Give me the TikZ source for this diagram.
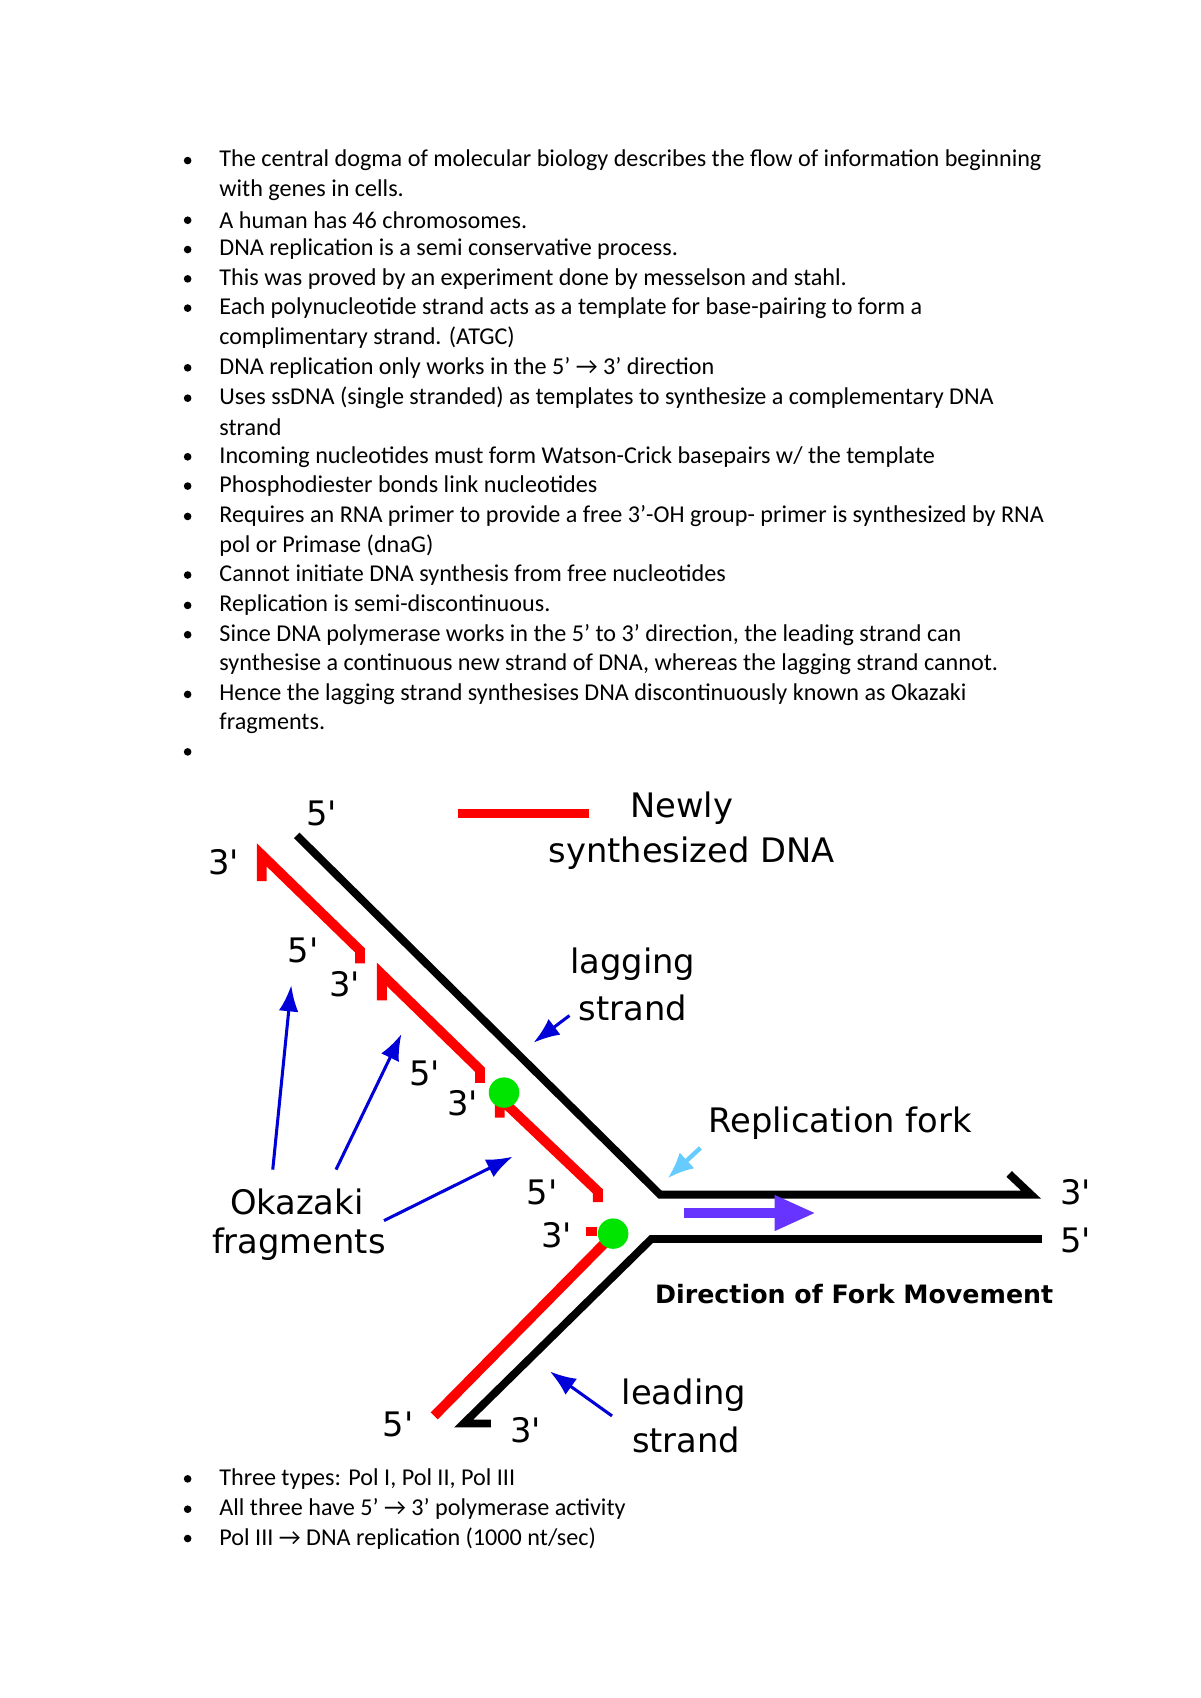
\documentclass[tikz,border=0pt]{standalone}
\usepackage{fontspec}
\setmainfont{Carlito}
\newfontfamily\diag{DejaVu Sans}
\usetikzlibrary{arrows.meta}
\begin{document}
\begin{tikzpicture}[x=0.05cm,y=-0.04973cm,
  body/.style={anchor=west,font=\fontsize{31.5}{35}\selectfont,inner sep=0},
  bul/.style={circle,fill=black,inner sep=0,minimum size=0.35cm},
  lab/.style={font=\diag\fontsize{44}{48}\selectfont,inner sep=0},
  small/.style={font=\diag\bfseries\fontsize{33}{36}\selectfont,inner sep=0},
  blk/.style={line width=0.36cm,black},
  rd/.style={line width=0.45cm,red},
  barrow/.style={draw=blue!85!black,line width=0.14cm,-{Latex[length=1.2cm,width=0.9cm]}}]
\useasboundingbox (0,0) rectangle (1100,1565);
\fill[white] (0,0) rectangle (1100,1565);
% bullets
\foreach \y/\t in {148/{The central dogma of molecular biology describes the flow of information beginning},
203/{A human has 46 chromosomes.},230/{DNA replication is a semi conservative process.},
257/{This was proved by an experiment done by messelson and stahl.},
284/{Each polynucleotide strand acts as a template for base-pairing to form a},
339/{DNA replication only works in the 5’ → 3’ direction},
367/{Uses ssDNA (single stranded) as templates to synthesize a complementary DNA},
421/{Incoming nucleotides must form Watson-Crick basepairs w/ the template},
448/{Phosphodiester bonds link nucleotides},
476/{Requires an RNA primer to provide a free 3’-OH group- primer is synthesized by RNA},
530/{Cannot initiate DNA synthesis from free nucleotides},
558/{Replication is semi-discontinuous.},
585/{Since DNA polymerase works in the 5’ to 3’ direction, the leading strand can},
640/{Hence the lagging strand synthesises DNA discontinuously known as Okazaki},
693/{},1363/{Three types: Pol I, Pol II, Pol III},
1391/{All three have 5’ → 3’ polymerase activity},
1418/{Pol III → DNA replication (1000 nt/sec)}}
{\node[bul] at (172,\y) {}; \node[body] at (201,\y) {\t};}
\foreach \y/\t in {175/{with genes in cells.},311/{complimentary strand. (ATGC)},394/{strand},
503/{pol or Primase (dnaG)},612/{synthesise a continuous new strand of DNA, whereas the lagging strand cannot.},667/{fragments.}}
{\node[body] at (201,\y) {\t};}
% strands
\coordinate (a1) at (272,770); \coordinate (fk) at (605,1101); \coordinate (a2) at (945,1101);
\draw[blk,line join=miter] (a1) -- (fk) -- (a2) -- (925,1082);
\coordinate (b1) at (955,1142); \coordinate (fl) at (597,1142); \coordinate (b2) at (425,1312);
\draw[blk,line join=miter] (b1) -- (fl) -- (b2) -- (450,1312);
\draw[rd] (240,812) -- (240,788) -- (330,876) -- (330,888);
\draw[rd] (350,922) -- (350,898) -- (440,986) -- (440,998);
\draw[rd] (458,1030) -- (458,1012) -- (548,1098) -- (548,1108);
\draw[rd] (555,1145) -- (398,1305);
\draw[rd] (537,1135) -- (547,1135);
\draw[line width=0.4cm,red] (420,750) -- (540,750);
\fill[green!90!black] (462,1007) circle (14); \fill[green!90!black] (562,1137) circle (14);
% arrows
\draw[draw={rgb,255:red,102;green,51;blue,255},line width=0.5cm,-{Triangle[length=1.9cm,width=1.5cm]}] (627,1118) -- (748,1118);
\draw[draw={rgb,255:red,102;green,204;blue,255},line width=0.2cm,-{Latex[length=1.2cm,width=1cm]}] (642,1058) -- (612,1086);
\draw[barrow] (522,936) -- (489,961);
\draw[barrow] (250,1078) -- (267,908);
\draw[barrow] (308,1078) -- (368,953);
\draw[barrow] (352,1125) -- (470,1066);
\draw[barrow] (561,1305) -- (504,1264);
% labels
\foreach \p/\t in {{295,750}/5',{205,795}/3',{278,876}/5',{316,907}/3',{389,989}/5',{424,1017}/3',{497,1099}/5',{510,1138}/3',{365,1313}/5',{482,1318}/3',{986,1099}/3',{986,1143}/5'}
\node[lab] at (\p) {\t};
\node[lab] at (625,745) {Newly};
\node[lab] at (634,786) {synthesized DNA};
\node[lab] at (580,889) {lagging};
\node[lab] at (580,929) {strand};
\node[lab] at (770,1035) {Replication fork};
\node[lab] at (272,1108) {Okazaki};
\node[lab] at (274,1147) {fragments};
\node[small] at (783,1193) {Direction of Fork Movement};
\node[lab] at (627,1286) {leading};
\node[lab] at (629,1327) {strand};
\end{tikzpicture}
\end{document}
